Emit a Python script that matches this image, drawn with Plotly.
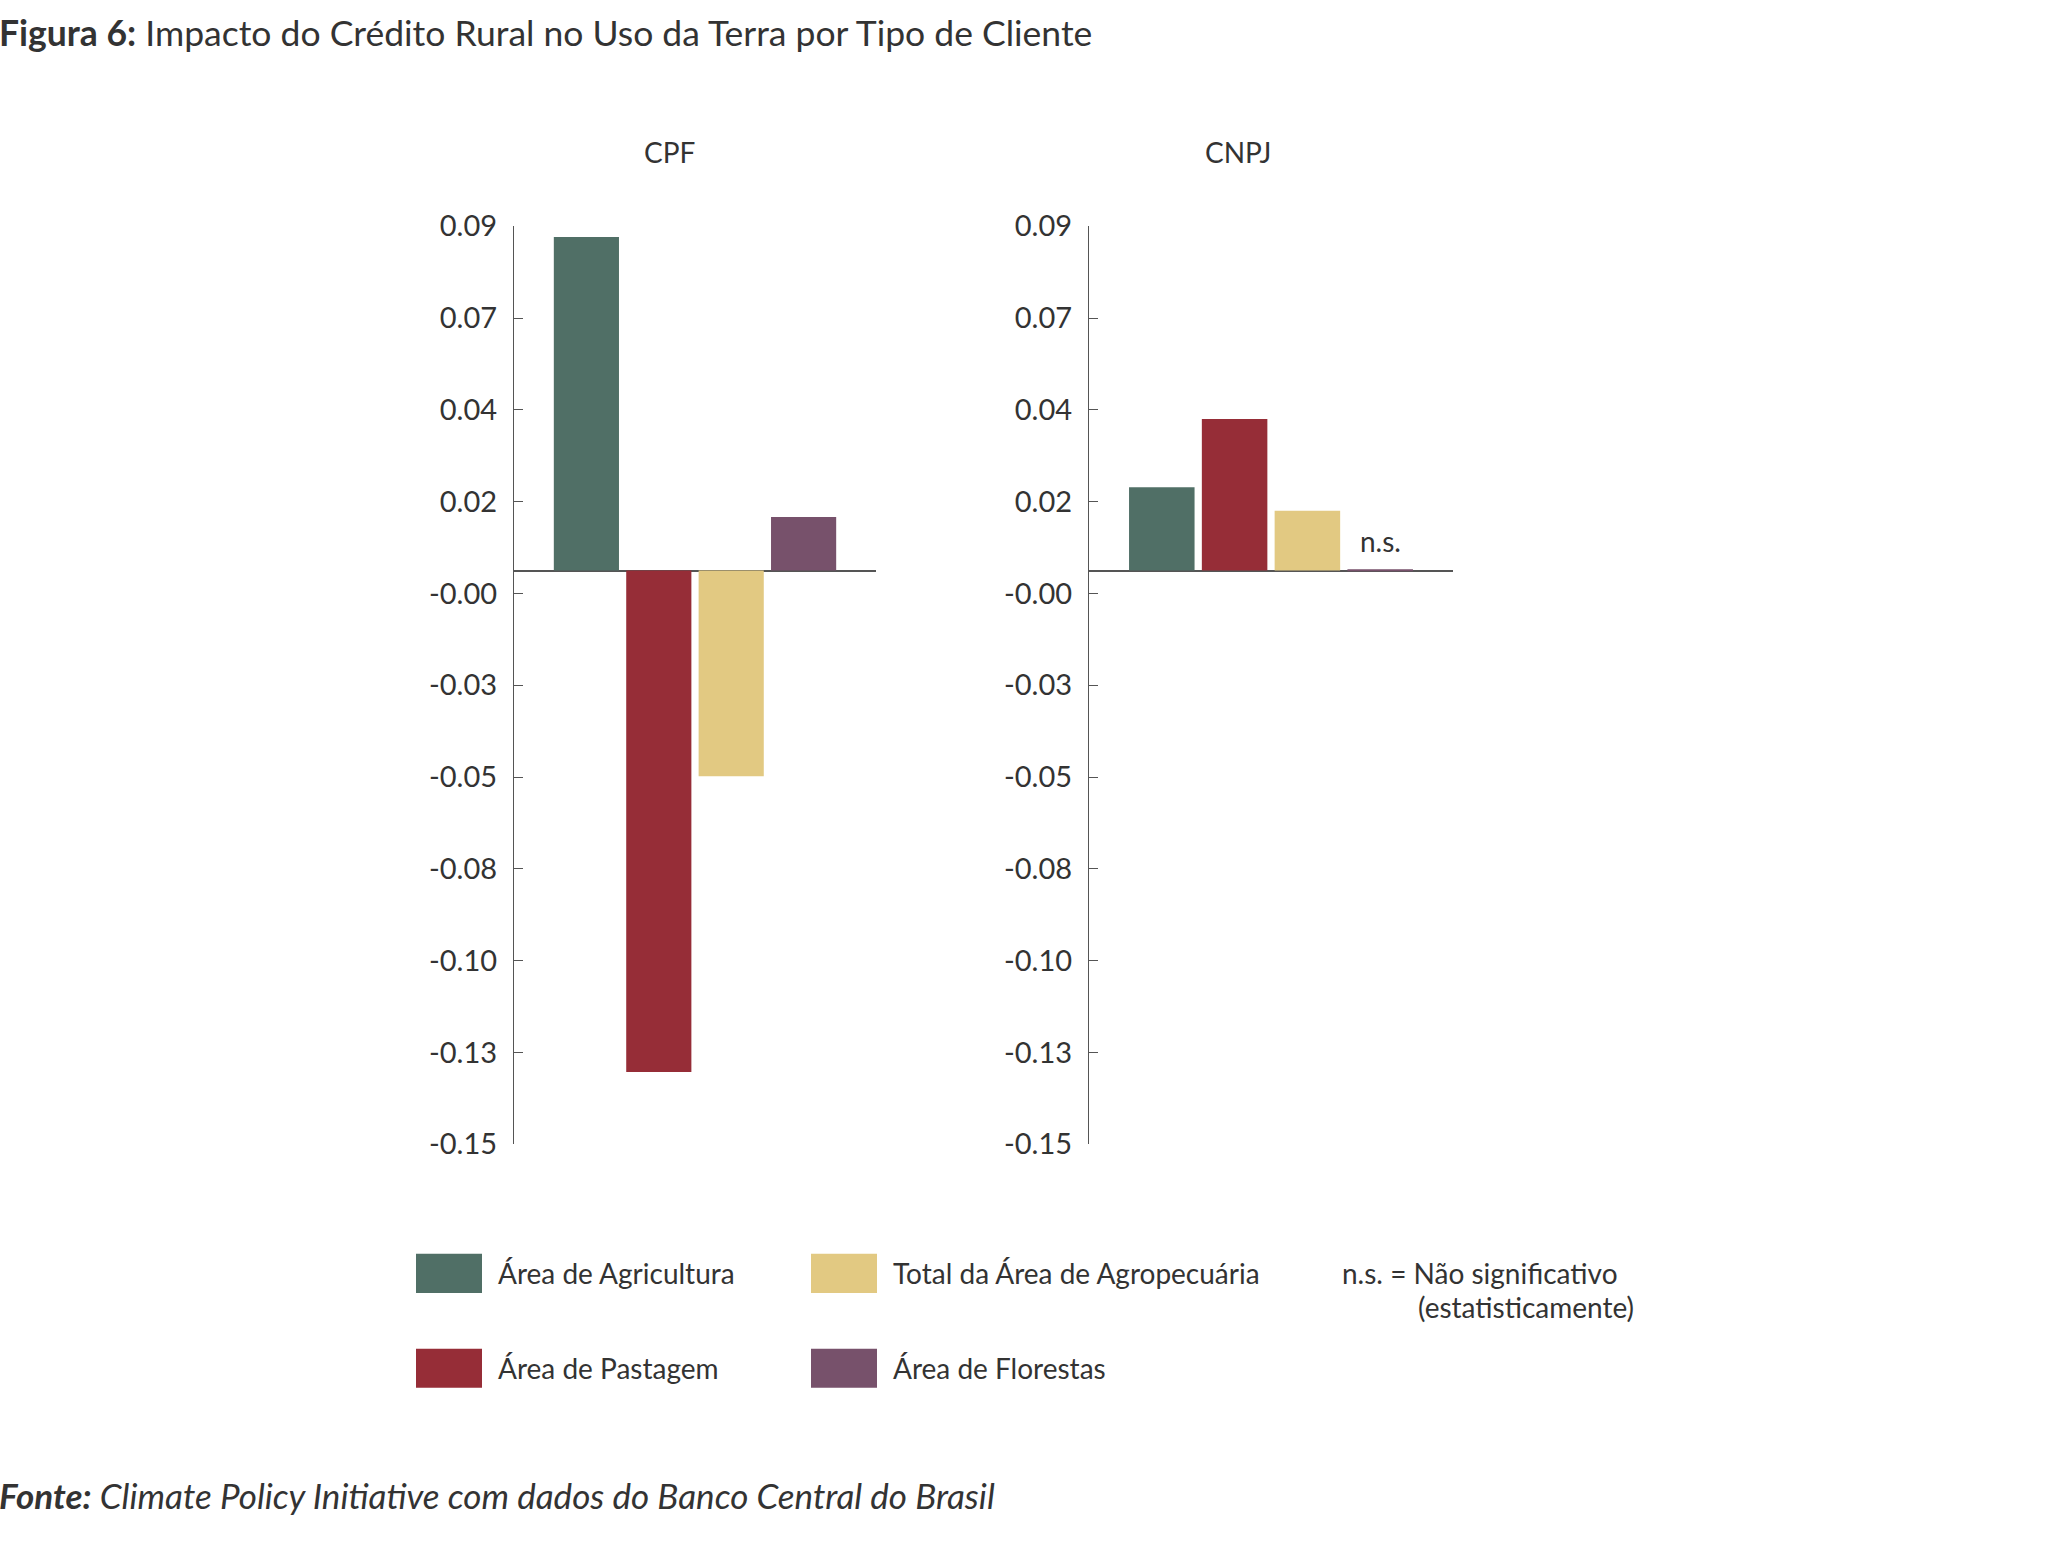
import plotly.graph_objects as go

# ---------------- data ----------------
categories = ["Área de Agricultura", "Área de Pastagem", "Total da Área de Agropecuária", "Área de Florestas"]
cpf_values = [0.0872, -0.1311, -0.0538, 0.0140]
cnpj_values = [0.0218, 0.0396, 0.0156, 0.0003]
panel_titles = ["CPF", "CNPJ"]
tick_values = [0.09, 0.066, 0.042, 0.018, -0.006, -0.03, -0.054, -0.078, -0.102, -0.126, -0.15]
tick_labels = ["0.09", "0.07", "0.04", "0.02", "-0.00", "-0.03", "-0.05", "-0.08", "-0.10", "-0.13", "-0.15"]
bar_colors = ["#506f66", "#962d37", "#e2c982", "#77516b"]
legend_order = [0, 2, 1, 3]  # row-major: Agricultura, Total, Pastagem, Florestas

W, H = 2055, 1568
TXT = "#333333"
AX = "#555555"
COND = "Liberation Sans Narrow, Arial Narrow, Lato, sans-serif"
TICKF = "Lato, Open Sans, sans-serif"

def px(x):
    return x / W

def py(y):
    return 1 - y / H

fig = go.Figure()
fig.add_trace(go.Bar(x=categories, y=cpf_values, marker=dict(color=bar_colors, line=dict(width=0)),
                     width=0.9, showlegend=False, xaxis="x", yaxis="y"))
fig.add_trace(go.Bar(x=categories, y=cnpj_values, marker=dict(color=bar_colors, line=dict(width=0)),
                     width=0.9, showlegend=False, xaxis="x2", yaxis="y2"))

ydom = [py(1151), py(212)]
xdom1 = [px(514), px(876)]
xdom2 = [px(1089), px(1453)]

xcommon = dict(type="category", range=[-1, 4], visible=False, showgrid=False)
ycommon = dict(range=[-0.15, 0.09], domain=ydom, tickmode="array", tickvals=tick_values, ticktext=tick_labels,
               showgrid=False, zeroline=True, zerolinecolor=AX, zerolinewidth=1.5,
               showline=True, linecolor=AX, linewidth=1.2, ticks="inside", ticklen=9, tickcolor=AX,
               tickwidth=1, tickfont=dict(family=TICKF, size=29, color=TXT), ticklabelstandoff=10)

fig.update_layout(
    width=W, height=H, autosize=False,
    margin=dict(l=0, r=0, t=0, b=0),
    paper_bgcolor="white", plot_bgcolor="white",
    xaxis=dict(domain=xdom1, anchor="y", **xcommon),
    xaxis2=dict(domain=xdom2, anchor="y2", **xcommon),
    yaxis=dict(anchor="x", **ycommon),
    yaxis2=dict(anchor="x2", **ycommon),
    bargap=0.1,
)

ann = []
# title
ann.append(dict(x=px(-3), y=py(14), xref="paper", yref="paper", xanchor="left", yanchor="middle",
                text="<b>Figura 6:</b> Impacto do Crédito Rural no Uso da Terra por Tipo de Cliente",
                showarrow=False, font=dict(family=COND, size=35.5, color=TXT)))
# panel titles
for t, xc in zip(panel_titles, [669, 1238]):
    ann.append(dict(x=px(xc), y=py(136), xref="paper", yref="paper", xanchor="center", yanchor="middle",
                    text=t, showarrow=False, font=dict(family=COND, size=28, color=TXT)))
# n.s. marker
ann.append(dict(x=categories[3], y=0, xref="x2", yref="y2", xanchor="center", yanchor="bottom", yshift=11,
                text="n.s.", showarrow=False, font=dict(family=TICKF, size=28, color=TXT)))

# legend (manual, 2x2)
shapes = []
sw_x = [416, 811]
sw_y = [1263, 1360]
for k, idx in enumerate(legend_order):
    r, c = divmod(k, 2)
    x0 = sw_x[c]
    y0 = sw_y[r]
    shapes.append(dict(type="rect", xref="paper", yref="paper", x0=px(x0), x1=px(x0 + 66),
                       y0=py(y0 + 40), y1=py(y0), fillcolor=bar_colors[idx], line=dict(width=0)))
    ann.append(dict(x=px(x0 + 80), y=py(y0 + 20), xref="paper", yref="paper", xanchor="left", yanchor="middle",
                    text=categories[idx], showarrow=False, font=dict(family=COND, size=28, color=TXT)))

ann.append(dict(x=px(1340), y=py(1283), xref="paper", yref="paper", xanchor="left", yanchor="middle",
                text="n.s. = Não significativo", showarrow=False, font=dict(family=COND, size=28, color=TXT)))
ann.append(dict(x=px(1416), y=py(1317), xref="paper", yref="paper", xanchor="left", yanchor="middle",
                text="(estatisticamente)", showarrow=False, font=dict(family=COND, size=28, color=TXT)))

# source
ann.append(dict(x=px(-3), y=py(1510), xref="paper", yref="paper", xanchor="left", yanchor="middle",
                text="<b><i>Fonte:</i></b><i> Climate Policy Initiative com dados do Banco Central do Brasil</i>",
                showarrow=False, font=dict(family=COND, size=35, color=TXT)))

fig.update_layout(annotations=ann, shapes=shapes)
fig.write_html("out.html", post_script="document.body.style.margin='0';",
               config={"displayModeBar": False})
